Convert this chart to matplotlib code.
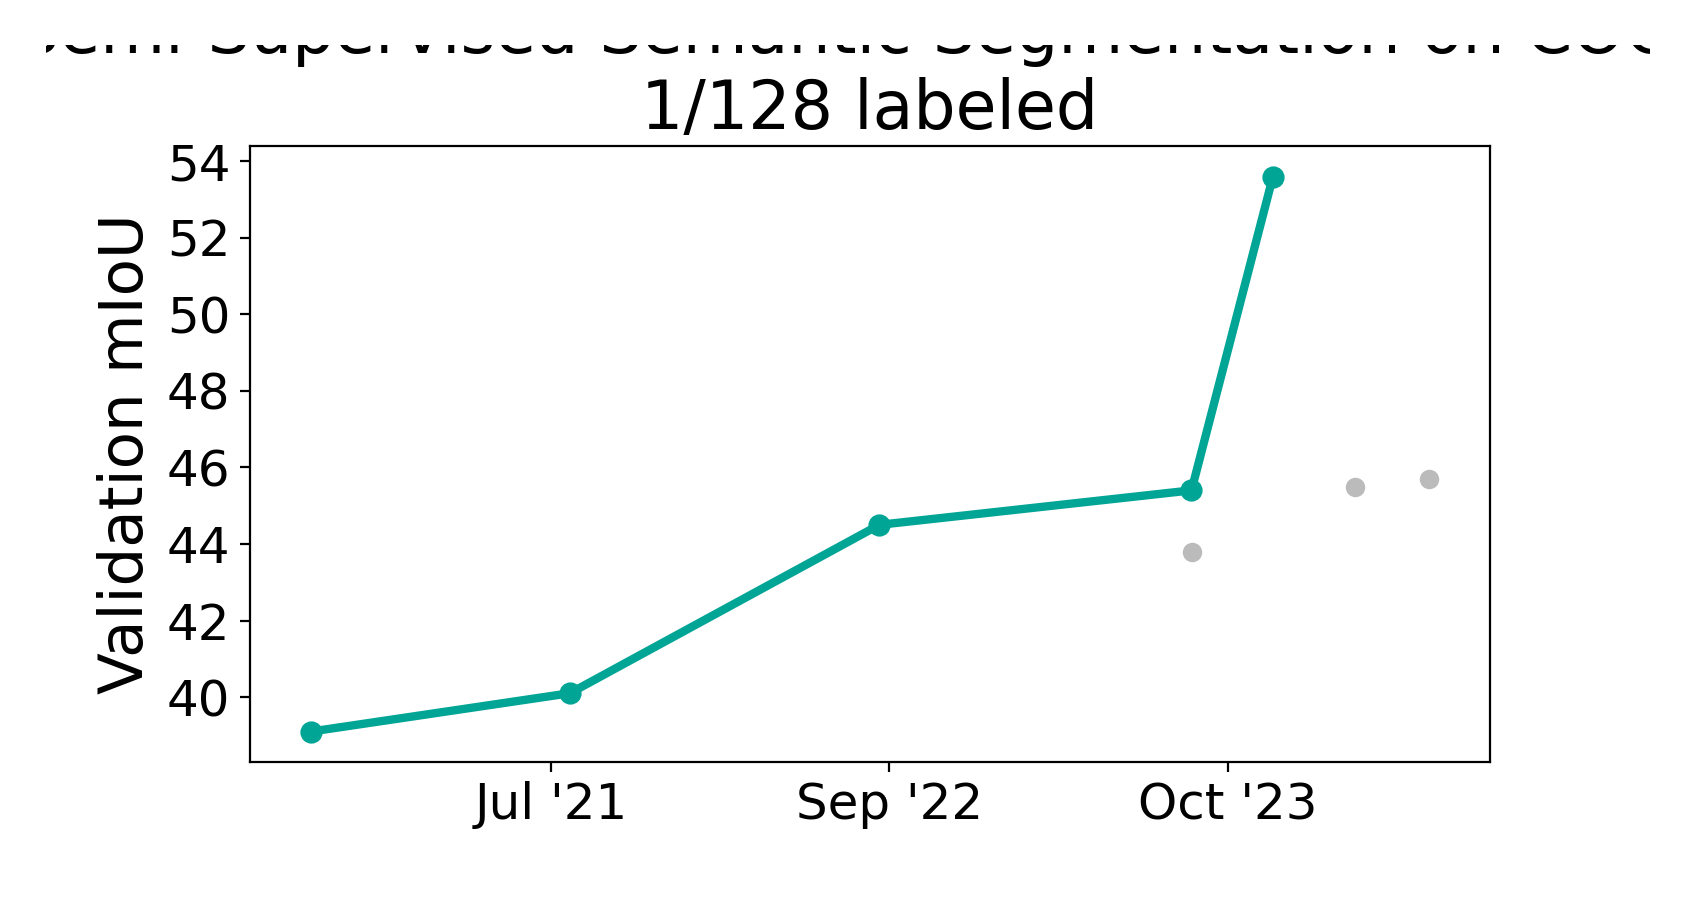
import datetime as dt
import matplotlib
matplotlib.use("Agg")
import matplotlib.pyplot as plt
import matplotlib.dates as mdates
from matplotlib.transforms import Bbox

# SOTA line (teal)
sota_dates = ["2020-10-13", "2021-08-23", "2022-09-03", "2023-09-17", "2023-12-25"]
sota_miou = [39.1, 40.1, 44.5, 45.4, 53.6]

# other methods (grey dots)
other_dates = ["2023-09-18", "2024-04-02", "2024-07-01"]
other_miou = [43.8, 45.5, 45.7]

tick_dates = ["2021-07-31", "2022-09-15", "2023-10-31"]
tick_labels = ["Jul '21", "Sep '22", "Oct '23"]

title = "Semi-Supervised Semantic Segmentation on COCO\n1/128 labeled"

to_dt = lambda lst: [dt.datetime.strptime(s, "%Y-%m-%d") for s in lst]

fig = plt.figure(figsize=(8.5, 4.5), dpi=200, facecolor="white")
ax = fig.add_axes([0.147, 0.1533, 0.7295, 0.6845])

ax.plot(to_dt(other_dates), other_miou, "o", color="#bbbbbb", markersize=6,
        linestyle="none", zorder=2)
ax.plot(to_dt(sota_dates), sota_miou, "-o", color="#00a595", linewidth=3,
        markersize=7, zorder=3)

ax.margins(x=0.055, y=0.055)
ax.set_xticks(mdates.date2num(to_dt(tick_dates)))
ax.set_xticklabels(tick_labels)
ax.set_yticks(range(40, 55, 2))
ax.tick_params(labelsize=18)
ax.set_ylabel("Validation mIoU", fontsize=22)

t = ax.set_title(title, fontsize=24)
# the top line runs past the canvas in the original and gets cut off
t.set_clip_box(Bbox([[46, 0], [1650, 855]]))
t.set_clip_on(True)

fig.savefig("out.png", dpi=200, facecolor="white")
